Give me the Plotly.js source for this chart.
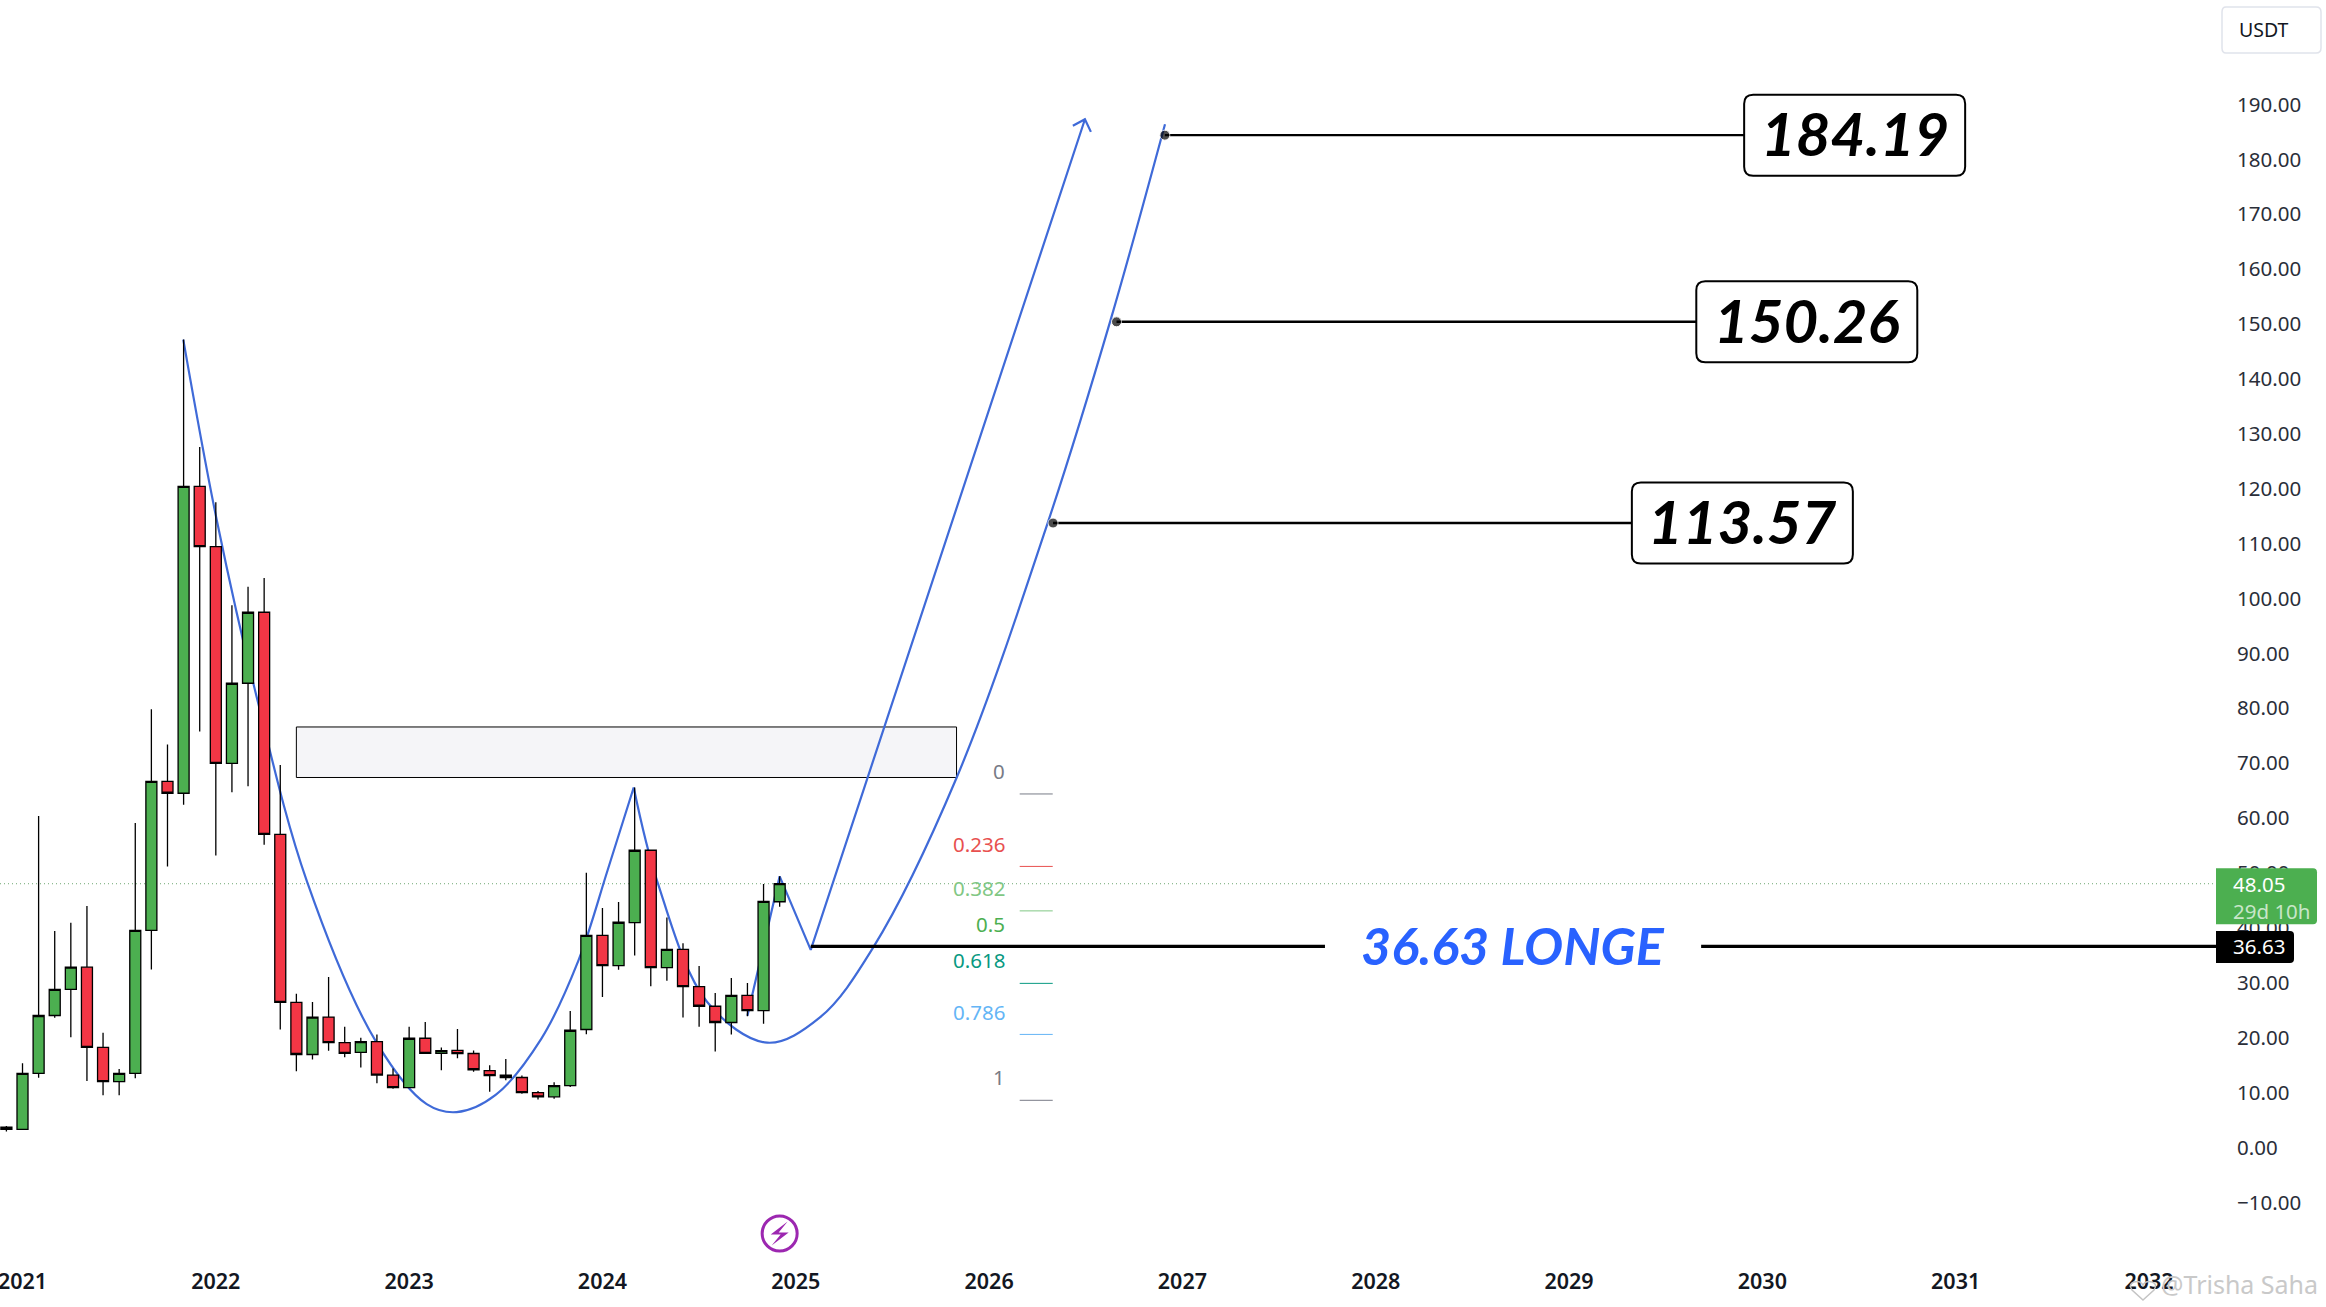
<!DOCTYPE html>
<html><head><meta charset="utf-8">
<script src="https://cdn.plot.ly/plotly-3.0.1.min.js"></script>
<style>html,body{margin:0;padding:0;background:#fff}#c{width:2326px;height:1307px}</style></head>
<body><div id="c"></div>
<script>
// month index 0 = Dec 2020
const monthIndex = [0,1,2,3,4,5,6,7,8,9,10,11,12,13,14,15,16,17,18,19,20,21,22,23,24,25,26,27,28,29,30,31,32,33,34,35,36,37,38,39,40,41,42,43,44,45,46,47,48];
const openP  = [3.7,3.31,13.49,24.05,28.79,32.84,18.23,12.0,13.49,39.55,66.7,64.53,120.41,109.45,69.96,84.57,97.5,57.03,26.42,16.94,23.76,19.1,17.34,19.3,13.19,10.92,19.9,17.14,17.69,17.12,14.02,13.18,12.75,10.0,9.23,11.27,21.5,38.63,33.13,40.96,54.15,32.78,36.09,29.32,25.73,22.77,27.7,24.95,44.77];
const closeP = [3.31,13.49,24.05,28.79,32.84,18.23,12.0,13.49,39.55,66.7,64.53,120.41,109.45,69.96,84.57,97.5,57.03,26.42,16.94,23.76,19.1,17.14,19.3,13.19,10.92,19.9,17.14,17.63,17.1,14.16,13.1,12.75,10.0,9.23,11.27,21.36,38.63,33.13,41.03,54.15,32.78,36.09,29.32,25.73,22.77,27.7,24.95,44.84,48.08];
const highP  = [3.9,15.36,60.38,39.45,40.93,43.99,20.9,14.28,59.1,79.83,73.41,147.16,127.61,117.55,98.79,102.15,103.72,69.66,28.0,26.52,31.06,21.98,20.0,20.6,14.37,21.98,22.87,18.23,21.57,17.69,15.0,16.14,13.1,10.28,11.91,24.88,50.03,43.64,44.7,65.57,54.15,41.88,37.2,33.06,28.13,30.88,29.96,48.01,49.42];
const lowP   = [2.9,3.31,12.7,23.65,20.1,12.1,9.54,9.54,12.6,32.44,51.2,62.45,75.78,53.17,64.73,65.81,55.15,21.48,13.88,16.05,17.63,16.45,14.57,11.71,10.72,10.92,17.14,14.08,16.28,13.81,10.14,12.26,9.79,8.73,8.87,11.0,20.65,27.42,32.36,34.97,29.39,30.38,23.68,21.99,17.48,20.58,23.89,22.55,43.85];

const yearTicks  = [1,13,25,37,49,61,73,85,97,109,121,133];
const yearLabels = ['2021','2022','2023','2024','2025','2026','2027','2028','2029','2030','2031','2032'];
const priceTicks = [-10,0,10,20,30,40,50,60,70,80,90,100,110,120,130,140,150,160,170,180,190];

const arc1X = [10.98,13.05,15.54,18.64,22.98,26.09,27.95,30.37,33.2,35.5,37.32,38.94];
const arc1Y = [147.16,114.4,82,48.6,19.1,7.9,6.45,9.6,19.8,34,50.5,65.57];
const arc2X = [38.94,40.41,43.5,47.23,50.5,53.8,58.99,64.8,68.54,71.92];
const arc2Y = [65.57,48.4,26.5,19.1,23.7,36.4,67.4,115.2,150.7,186.4];
const zagX = [46.0,48.0,49.93,66.95,66.2,66.95,67.32];
const zagY = [24.0,49.4,36.0,187.3,186.1,187.3,185.0];

const targets = [184.19,150.26,113.57];
const targetLineY = [184.4,150.4,113.75];
const targetStart = [71.91,68.91,64.97];
const targetEnd = [107.87,104.9,100.9];
const boxWidths = [221,221,221];
const entry = 36.63, lastPrice = 48.05;
const entryX = [49.93,81.85,NaN,105.2,137.16];
const zoneX = [18.0,58.98], zoneY = [67.4,76.6];

const fibLevels = ['0','0.236','0.382','0.5','0.618','0.786','1'];
const fibValues = [64.4,51.2,43.1,36.5,29.9,20.6,8.6];
const fibLabelY = [68.5,55.2,47.2,40.7,34.1,24.6,12.8];
const fibColors = ['#787b86','#e8504f','#81c784','#4caf50','#089981','#64b5f6','#787b86'];
const fibLabelX = 62.02, fibLineX = [62.9,64.95];

const BLUE = '#3f6ad8';
const FONT = '"Noto Sans", sans-serif';
const xr = [-0.397,137.16], yr = [-20.49,209.02];

function roundedBox(xi,yv,w,h,r){
  return {type:'path',xref:'x',yref:'y',xsizemode:'pixel',ysizemode:'pixel',xanchor:xi,yanchor:yv,
    path:`M ${r} ${-h/2} L ${w-r} ${-h/2} Q ${w} ${-h/2} ${w} ${-h/2+r} L ${w} ${h/2-r} Q ${w} ${h/2} ${w-r} ${h/2} L ${r} ${h/2} Q 0 ${h/2} 0 ${h/2-r} L 0 ${-h/2+r} Q 0 ${-h/2} ${r} ${-h/2} Z`,
    fillcolor:'#ffffff',line:{color:'#000',width:2},layer:'above'};
}
function tag(yv,top,bottom,w,color){
  const r=4;
  return {type:'path',xref:'paper',yref:'y',xsizemode:'pixel',ysizemode:'pixel',xanchor:1,yanchor:yv,
    path:`M 0 ${bottom} L ${w-r} ${bottom} Q ${w} ${bottom} ${w} ${bottom+r} L ${w} ${top-r} Q ${w} ${top} ${w-r} ${top} L 0 ${top} Z`,
    fillcolor:color,line:{width:0},layer:'above'};
}

const traces = [
 {type:'scatter',mode:'lines',x:xr,y:[lastPrice,lastPrice],line:{color:'#6fa873',width:1,dash:'1px,3px'},hoverinfo:'skip'},
 {type:'scatter',mode:'lines',x:arc1X,y:arc1Y,line:{color:BLUE,width:2.2,shape:'spline',smoothing:1},hoverinfo:'skip'},
 {type:'scatter',mode:'lines',x:arc2X,y:arc2Y,line:{color:BLUE,width:2.2,shape:'spline',smoothing:1},hoverinfo:'skip'},
 {type:'scatter',mode:'lines',x:zagX,y:zagY,line:{color:BLUE,width:2.2},hoverinfo:'skip'},
 {type:'scatter',mode:'lines',x:entryX,y:entryX.map(()=>entry),line:{color:'#000',width:3.4},connectgaps:false,hoverinfo:'skip'},
 {type:'candlestick',x:monthIndex,open:openP,high:highP,low:lowP,close:closeP,xaxis:'x2',yaxis:'y2',whiskerwidth:0,
  increasing:{line:{color:'#000',width:1.3},fillcolor:'#4caf50'},
  decreasing:{line:{color:'#000',width:1.3},fillcolor:'#f23645'},hoverinfo:'skip'}
];
targets.forEach((t,k)=>{
  traces.push({type:'scatter',mode:'lines+markers',x:[targetStart[k],targetEnd[k]],y:[targetLineY[k],targetLineY[k]],
    line:{color:'#000',width:2.4},marker:{color:'#000',size:[10,0]},hoverinfo:'skip'});
});
fibLevels.forEach((l,k)=>{
  if(k===3) return;
  traces.push({type:'scatter',mode:'lines',x:fibLineX,y:[fibValues[k],fibValues[k]],line:{color:fibColors[k],width:1},hoverinfo:'skip'});
});
traces.push({type:'scatter',mode:'markers',x:[48],y:[-15.66],marker:{symbol:'circle-open',size:35,color:'#9c27b0',line:{width:3,color:'#9c27b0'}},xaxis:'x2',yaxis:'y2',hoverinfo:'skip'});

const shapes = [
 {type:'rect',xref:'x',yref:'y',x0:zoneX[0],x1:zoneX[1],y0:zoneY[0],y1:zoneY[1],fillcolor:'#f5f5f8',line:{color:'#000',width:1},layer:'below'},
 tag(lastPrice,15.5,-40.5,101,'#4caf50'),
 tag(entry,15.5,-16.5,78,'#000000'),
 {type:'path',xref:'paper',yref:'paper',xsizemode:'pixel',ysizemode:'pixel',xanchor:1,yanchor:1,
  path:'M 10 -7 L 100 -7 Q 105 -7 105 -12 L 105 -48 Q 105 -53 100 -53 L 10 -53 Q 6 -53 6 -48 L 6 -12 Q 6 -7 10 -7 Z',
  fillcolor:'#fff',line:{color:'#e0e3eb',width:1.5},layer:'above'},
 {type:'path',xref:'x',yref:'y',xsizemode:'pixel',ysizemode:'pixel',xanchor:48,yanchor:-15.66,
  path:'M 8 12 L -9 -1 L 1 -1 L -8 -12 L 9 1 L -1 1 Z',fillcolor:'#9c27b0',line:{width:0},layer:'above'},
 {type:'path',xref:'paper',yref:'paper',xsizemode:'pixel',ysizemode:'pixel',xanchor:1,yanchor:0,
  path:'M -73 -40 L -62 -30 Q -58 -24 -64 -22 Q -70 -20 -73 -25 Q -76 -20 -82 -22 Q -88 -24 -84 -30 Z',
  fillcolor:'rgba(0,0,0,0)',line:{color:'#c4c4c4',width:1.5},layer:'above'}
];
targets.forEach((t,k)=>shapes.push(roundedBox(targetEnd[k],targetLineY[k],boxWidths[k],81,9)));

const ann = [];
targets.forEach((t,k)=>ann.push({xref:'x',yref:'y',x:targetEnd[k],y:targetLineY[k],xanchor:'center',xshift:110.5,yshift:2,yanchor:'middle',showarrow:false,
  text:t.toFixed(2),font:{family:'Lato',size:60,color:'#000',weight:700,style:'italic'}}));
fibLevels.forEach((l,k)=>ann.push({xref:'x',yref:'y',x:fibLabelX,y:fibLabelY[k],xanchor:'right',yanchor:'middle',showarrow:false,
  text:l,font:{family:FONT,size:20.5,color:fibColors[k]},borderpad:0}));
ann.push({xref:'x',yref:'y',x:93.5,y:entry,yshift:1,xanchor:'center',yanchor:'middle',showarrow:false,text:'36.63 LONGE',
  font:{family:'Lato',size:52,color:'#2962ff',style:'italic',weight:700}});
ann.push({xref:'paper',yref:'y',x:1,xshift:15,y:lastPrice,yshift:-14,xanchor:'left',yanchor:'middle',showarrow:false,align:'left',
  text:'48.05<br><span style="color:#c8e6c9">29d 10h</span>',font:{family:FONT,size:20.5,color:'#fff'}});
ann.push({xref:'paper',yref:'y',x:1,xshift:15,y:entry,xanchor:'left',yanchor:'middle',showarrow:false,text:'36.63',font:{family:FONT,size:20.5,color:'#fff'}});
ann.push({xref:'paper',yref:'paper',x:1,xshift:21,y:1,yshift:-29,xanchor:'left',yanchor:'middle',showarrow:false,text:'USDT',font:{family:FONT,size:19.5,color:'#131722'}});
ann.push({xref:'paper',yref:'paper',x:1,xshift:-57,y:0,yshift:-24,xanchor:'left',yanchor:'middle',showarrow:false,text:'@Trisha Saha',font:{family:FONT,size:25,color:'#c9c9c9'}});

const layout = {
 width:2326,height:1307,paper_bgcolor:'#fff',plot_bgcolor:'#fff',showlegend:false,boxgap:0.317,boxgroupgap:0,
 margin:{l:0,r:110,t:0,b:47,pad:0},
 xaxis:{range:xr,type:'linear',tickmode:'array',tickvals:yearTicks,ticktext:yearLabels,showgrid:false,zeroline:false,showline:false,ticks:'',
  ticklabeloverflow:'allow',ticklabelstandoff:6,
  tickfont:{family:FONT,size:21.5,color:'#131722',weight:600},automargin:false},
 yaxis:{range:yr,side:'right',tickmode:'array',tickvals:priceTicks,ticktext:priceTicks.map(v=>(v<0?'\u2212':'')+Math.abs(v).toFixed(2)),showgrid:false,zeroline:false,showline:false,
  ticks:'outside',ticklen:16,tickcolor:'rgba(0,0,0,0)',tickfont:{family:FONT,size:20.5,color:'#2a2e39'},automargin:false},
 xaxis2:{range:xr,overlaying:'x',anchor:'y2',visible:false,rangeslider:{visible:false}},
 yaxis2:{range:yr,overlaying:'y',anchor:'x2',side:'right',visible:false},
 shapes:shapes,annotations:ann
};
Plotly.newPlot('c',traces,layout,{displayModeBar:false,staticPlot:true});
</script></body></html>
